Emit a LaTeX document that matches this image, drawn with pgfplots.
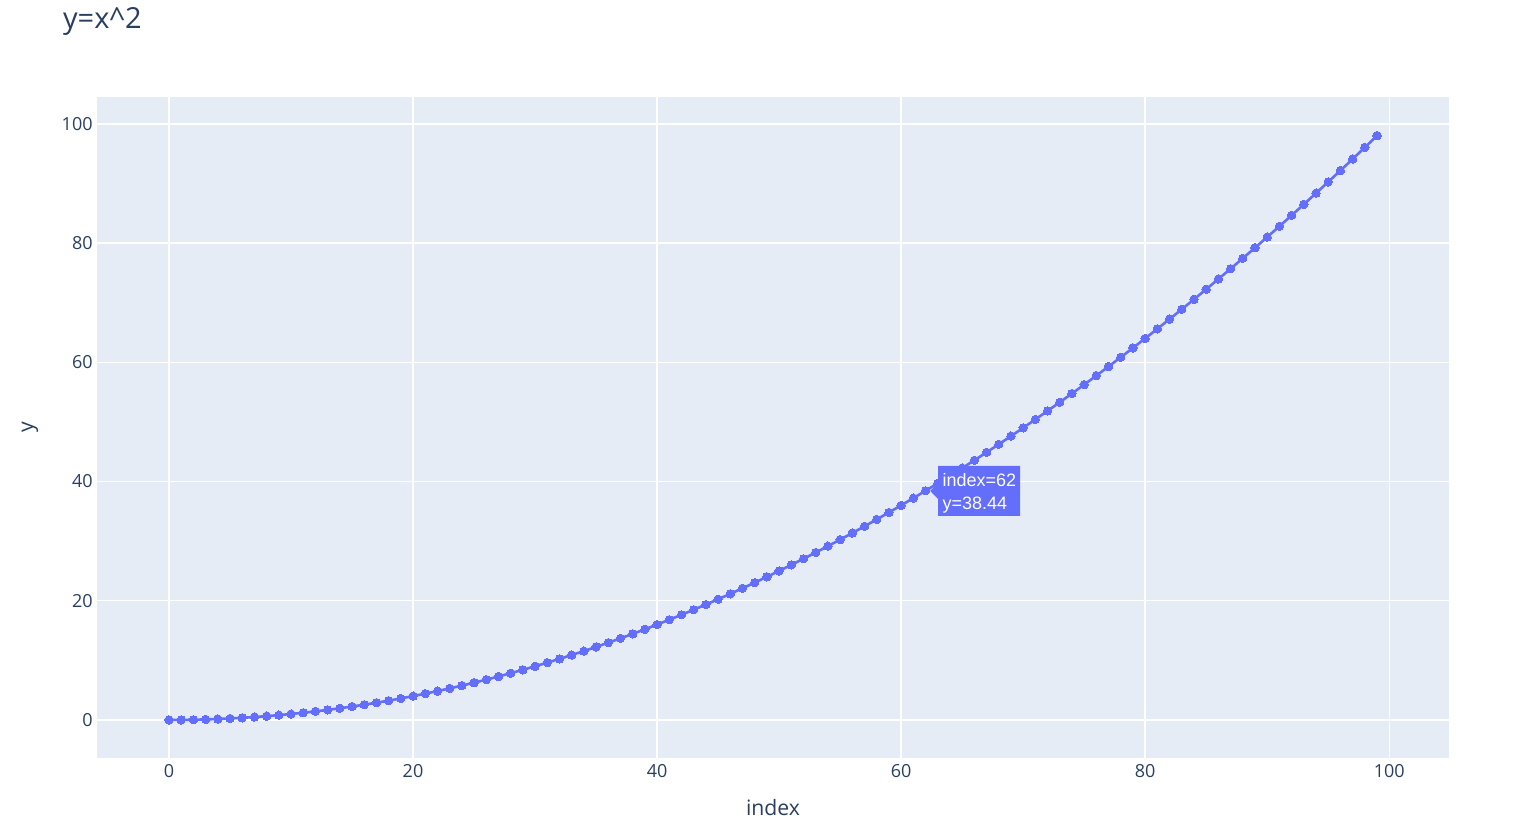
\documentclass[border=0pt]{standalone}
\usepackage{pgfplots}
\pgfplotsset{compat=1.18}
\usepackage{pgfplotstable}
\usepackage{fontspec}
\setmainfont{Open Sans}
\newfontfamily\tipfont{Liberation Sans}
\definecolor{bgc}{HTML}{E5ECF6}
\definecolor{linec}{HTML}{636EFA}
\definecolor{txtc}{HTML}{2A3F5F}
\pgfplotstableread{
x y
0 0
1 0.01
2 0.04
3 0.09
4 0.16
5 0.25
6 0.36
7 0.49
8 0.64
9 0.81
10 1
11 1.21
12 1.44
13 1.69
14 1.96
15 2.25
16 2.56
17 2.89
18 3.24
19 3.61
20 4
21 4.41
22 4.84
23 5.29
24 5.76
25 6.25
26 6.76
27 7.29
28 7.84
29 8.41
30 9
31 9.61
32 10.24
33 10.89
34 11.56
35 12.25
36 12.96
37 13.69
38 14.44
39 15.21
40 16
41 16.81
42 17.64
43 18.49
44 19.36
45 20.25
46 21.16
47 22.09
48 23.04
49 24.01
50 25
51 26.01
52 27.04
53 28.09
54 29.16
55 30.25
56 31.36
57 32.49
58 33.64
59 34.81
60 36
61 37.21
62 38.44
63 39.69
64 40.96
65 42.25
66 43.56
67 44.89
68 46.24
69 47.61
70 49
71 50.41
72 51.84
73 53.29
74 54.76
75 56.25
76 57.76
77 59.29
78 60.84
79 62.41
80 64
81 65.61
82 67.24
83 68.89
84 70.56
85 72.25
86 73.96
87 75.69
88 77.44
89 79.21
90 81
91 82.81
92 84.64
93 86.49
94 88.36
95 90.25
96 92.16
97 94.09
98 96.04
99 98.01
}\datatable
\begin{document}
\begin{tikzpicture}
\path[use as bounding box] (0,0) rectangle (768pt,411pt);
\begin{axis}[
  at={(48.5pt,32pt)}, anchor=south west,
  scale only axis, width=676pt, height=330.5pt,
  xmin=-5.9, xmax=104.9, ymin=-6.38, ymax=104.5,
  axis background/.style={fill=bgc},
  axis line style={draw=none},
  tick style={draw=none},
  grid=major,
  major grid style={white, line width=0.7pt},
  xtick={0,20,40,60,80,100},
  ytick={0,20,40,60,80,100},
  /pgf/number format/assume math mode=true,
  ticklabel style={font=\fontsize{9}{11}\selectfont, text=txtc},
  yticklabel style={anchor=east, inner sep=0pt, xshift=-2pt},
  xticklabel style={anchor=north, inner sep=0pt, yshift=-2.8pt},
  xlabel={index}, ylabel={y},
  label style={font=\fontsize{10.6}{13}\selectfont, text=txtc},
  xlabel style={at={(axis description cs:0.5,0)}, anchor=base, yshift=-29pt},
  ylabel style={at={(axis description cs:0,0.5)}, anchor=center, yshift=33.5pt},
  title={y=x\textasciicircum 2},
  title style={at={(axis description cs:0,1)}, anchor=base west, xshift=-20.5pt, yshift=28pt, font=\fontsize{14.5}{17}\selectfont, text=txtc},
]
\draw[white, line width=1.4pt] (axis cs:0,-6.38) -- (axis cs:0,104.5);
\draw[white, line width=1.4pt] (axis cs:-5.9,0) -- (axis cs:104.9,0);
\addplot[linec, line width=1.3pt, mark=*, mark size=2.1pt, mark options={solid, fill=linec, draw=linec, line width=0pt}] table[x=x,y=y] {\datatable};
\coordinate (t0) at (axis cs:62.38,38.42);
\coordinate (t1) at (axis cs:63.03,39.77);
\coordinate (t2) at (axis cs:63.03,42.62);
\coordinate (t3) at (axis cs:69.75,42.62);
\coordinate (t4) at (axis cs:69.75,34.23);
\coordinate (t5) at (axis cs:63.03,34.23);
\coordinate (t6) at (axis cs:63.03,37.08);
\coordinate (l1) at (axis cs:63.36,39.09);
\coordinate (l2) at (axis cs:63.36,35.23);
\end{axis}
\fill[linec] (t0) -- (t1) -- (t2) -- (t3) -- (t4) -- (t5) -- (t6) -- cycle;
\node[anchor=base west, inner sep=0pt, text=white, font=\tipfont\fontsize{9}{11}\selectfont] at (l1) {index=62};
\node[anchor=base west, inner sep=0pt, text=white, font=\tipfont\fontsize{9}{11}\selectfont] at (l2) {y=38.44};
\end{tikzpicture}
\end{document}
